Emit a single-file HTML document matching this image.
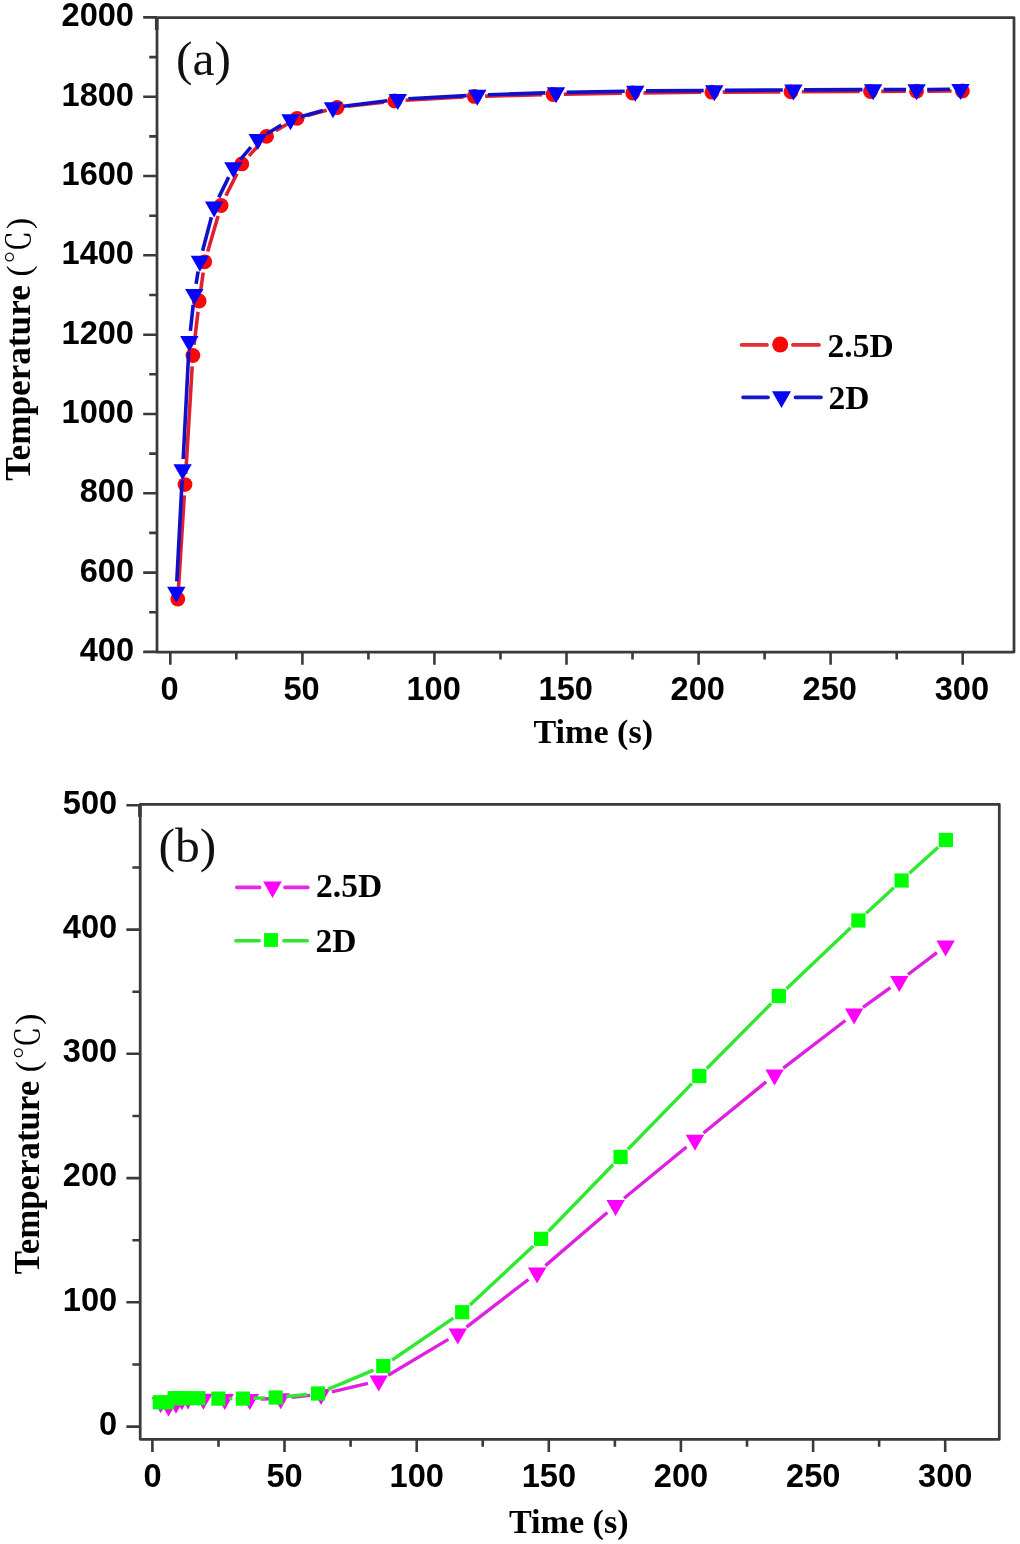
<!DOCTYPE html>
<html><head><meta charset="utf-8"><title>Temperature vs time</title>
<style>
html,body{margin:0;padding:0;background:#fff}
svg{display:block;filter:blur(0.5px)}
.tk{font:bold 32.6px "Liberation Sans",sans-serif;fill:#000}
.lg{font:bold 33.5px "Liberation Serif",serif;fill:#000}
.al{font:bold 34.1px "Liberation Serif","Noto Serif CJK SC",serif;fill:#000}
.yl{font-size:35.2px}
.cj{font-weight:normal;font-size:33.5px}
.pl{font:49.5px "Liberation Serif",serif;fill:#111}
</style></head><body>
<svg width="1020" height="1544" viewBox="0 0 1020 1544">
<rect width="1020" height="1544" fill="#fff"/>
<rect x="157" y="17.5" width="857" height="634.5" fill="none" stroke="#3a3a3a" stroke-width="2.75" stroke-linejoin="round"/>
<path d="M170.3 652v12.8M302.4 652v12.8M434.4 652v12.8M566.5 652v12.8M698.6 652v12.8M830.6 652v12.8M962.7 652v12.8M236.3 652v7.5M368.4 652v7.5M500.5 652v7.5M632.5 652v7.5M764.6 652v7.5M896.7 652v7.5M157 651.9h-13.8M157 572.6h-13.8M157 493.3h-13.8M157 414h-13.8M157 334.7h-13.8M157 255.3h-13.8M157 176h-13.8M157 96.7h-13.8M157 17.4h-13.8M157 612.2h-7.8M157 532.9h-7.8M157 453.6h-7.8M157 374.3h-7.8M157 295h-7.8M157 215.7h-7.8M157 136.4h-7.8M157 57.1h-7.8" stroke="#3a3a3a" stroke-width="2.6" fill="none"/>
<path d="M156.7 17.5v12.5" stroke="#3a3a3a" stroke-width="3.6" fill="none"/>
<g class="tk" text-anchor="middle">
<text x="169.5" y="699.5">0</text>
<text x="301.6" y="699.5">50</text>
<text x="433.6" y="699.5">100</text>
<text x="565.7" y="699.5">150</text>
<text x="697.8" y="699.5">200</text>
<text x="829.8" y="699.5">250</text>
<text x="961.9" y="699.5">300</text>
</g><g class="tk" text-anchor="end">
<text x="134" y="660.8">400</text>
<text x="134" y="581.5">600</text>
<text x="134" y="502.2">800</text>
<text x="134" y="422.9">1000</text>
<text x="134" y="343.6">1200</text>
<text x="134" y="264.2">1400</text>
<text x="134" y="184.9">1600</text>
<text x="134" y="105.6">1800</text>
<text x="134" y="26.3">2000</text>
</g>
<path d="M178.5 588.2L184.3 495.4M185.7 473.8L192.2 366.3M194.1 344.8L198 311.7M200.7 290.3L203.2 272.5M207.7 251.4L218.1 215.9M225.9 195.8L237 173.6M249 155.9L259.4 144.3M275.9 130.8L287.8 123.8M307.5 115.5L326.7 110.3M347.8 106.3L384 102.1M405.5 100.3L463.5 97M485.1 96.1L542.2 94.8M563.8 94.3L621.9 93.2M643.5 92.9L701.1 92.3M722.7 92.1L780.2 91.9M801.8 91.8L859.7 91.5M881.3 91.4L905.8 91.3M927.4 91.2L951.6 91" stroke="#e02030" stroke-width="3.6" fill="none"/>
<circle cx="177.8" cy="599" r="7.4" fill="#f80808"/><circle cx="185" cy="484.6" r="7.4" fill="#f80808"/><circle cx="192.9" cy="355.5" r="7.4" fill="#f80808"/><circle cx="199.2" cy="301" r="7.4" fill="#f80808"/><circle cx="204.7" cy="261.8" r="7.4" fill="#f80808"/><circle cx="221.1" cy="205.5" r="7.4" fill="#f80808"/><circle cx="241.8" cy="163.9" r="7.4" fill="#f80808"/><circle cx="266.6" cy="136.3" r="7.4" fill="#f80808"/><circle cx="297.1" cy="118.3" r="7.4" fill="#f80808"/><circle cx="337.1" cy="107.5" r="7.4" fill="#f80808"/><circle cx="394.7" cy="100.9" r="7.4" fill="#f80808"/><circle cx="474.3" cy="96.4" r="7.4" fill="#f80808"/><circle cx="553" cy="94.5" r="7.4" fill="#f80808"/><circle cx="632.7" cy="93" r="7.4" fill="#f80808"/><circle cx="711.9" cy="92.2" r="7.4" fill="#f80808"/><circle cx="791" cy="91.8" r="7.4" fill="#f80808"/><circle cx="870.5" cy="91.5" r="7.4" fill="#f80808"/><circle cx="916.6" cy="91.2" r="7.4" fill="#f80808"/><circle cx="962.4" cy="91" r="7.4" fill="#f80808"/>
<path d="M176.8 581.4L182.1 480.2M183.2 459L188.7 352M190.4 330.9L193.2 304.9M196.1 283.9L198.1 271.5M202.6 250.7L211.4 217.2M218.8 197.4L228.7 177.1M240.3 159.6L250.9 147.2M266.9 133.8L281.4 125M300.7 116.7L322.8 110.4M343.5 106.2L387.3 100.7M408.4 98.8L466.7 95.6M487.9 94.7L545.4 92.9M566.6 92.4L624.7 91.2M645.9 90.9L703.7 90.6M724.9 90.4L782.8 90M804 89.9L862.5 89.6M883.7 89.6L906 89.5M927.2 89.5L949.9 89.3" stroke="#1010c8" stroke-width="3.6" fill="none"/>
<polygon points="167.1,586.7 185.5,586.7 176.3,602.7" fill="#0404f8"/><polygon points="173.4,464.3 191.8,464.3 182.6,480.3" fill="#0404f8"/><polygon points="180.1,336.1 198.5,336.1 189.3,352.1" fill="#0404f8"/><polygon points="185.1,289.1 203.5,289.1 194.3,305.1" fill="#0404f8"/><polygon points="190.7,255.7 209.1,255.7 199.9,271.7" fill="#0404f8"/><polygon points="204.9,201.6 223.3,201.6 214.1,217.6" fill="#0404f8"/><polygon points="224.2,162.3 242.6,162.3 233.4,178.3" fill="#0404f8"/><polygon points="248.6,133.9 267,133.9 257.8,149.9" fill="#0404f8"/><polygon points="281.3,114.3 299.7,114.3 290.5,130.3" fill="#0404f8"/><polygon points="323.8,102.2 342.2,102.2 333,118.2" fill="#0404f8"/><polygon points="388.6,94.1 407,94.1 397.8,110.1" fill="#0404f8"/><polygon points="468.1,89.7 486.5,89.7 477.3,105.7" fill="#0404f8"/><polygon points="546.8,87.3 565.2,87.3 556,103.3" fill="#0404f8"/><polygon points="626.1,85.7 644.5,85.7 635.3,101.7" fill="#0404f8"/><polygon points="705.1,85.2 723.5,85.2 714.3,101.2" fill="#0404f8"/><polygon points="784.2,84.6 802.6,84.6 793.4,100.6" fill="#0404f8"/><polygon points="863.9,84.3 882.3,84.3 873.1,100.3" fill="#0404f8"/><polygon points="907.4,84.2 925.8,84.2 916.6,100.2" fill="#0404f8"/><polygon points="951.3,84 969.7,84 960.5,100" fill="#0404f8"/>
<path d="M741.6 344.9H767M792.9 344.9H819" stroke="#e03038" stroke-width="3.8" stroke-linecap="round"/><circle cx="780.2" cy="344.5" r="8" fill="#f80808"/>
<path d="M743.1 397.3H768M795.5 397.3H821" stroke="#1818c8" stroke-width="3.8" stroke-linecap="round"/><polygon points="772,391.3 791,391.3 781.5,407.9" fill="#0404f8"/>
<text class="lg" x="827.5" y="356.7">2.5D</text><text class="lg" x="828.5" y="409">2D</text>
<text class="pl" x="176" y="74.5">(a)</text>
<text class="al" text-anchor="middle" x="593.3" y="743.1">Time (s)</text>
<text class="al yl" transform="translate(29.7 480.7) rotate(-90)">Temperature <tspan class="cj" letter-spacing="1.4">(℃)</tspan></text>
<rect x="140.2" y="804.3" width="859.1" height="635" fill="none" stroke="#3a3a3a" stroke-width="2.75" stroke-linejoin="round"/>
<path d="M152.4 1439.3v12.8M284.5 1439.3v12.8M416.7 1439.3v12.8M548.8 1439.3v12.8M680.9 1439.3v12.8M813.1 1439.3v12.8M945.2 1439.3v12.8M218.5 1439.3v7.5M350.6 1439.3v7.5M482.7 1439.3v7.5M614.9 1439.3v7.5M747 1439.3v7.5M879.1 1439.3v7.5M140.2 1426.6h-13.8M140.2 1302.3h-13.8M140.2 1178.1h-13.8M140.2 1053.8h-13.8M140.2 929.6h-13.8M140.2 805.3h-13.8M140.2 1364.5h-7.8M140.2 1240.2h-7.8M140.2 1116h-7.8M140.2 991.7h-7.8M140.2 867.5h-7.8" stroke="#3a3a3a" stroke-width="2.6" fill="none"/>
<path d="M139.9 804.3v12.5" stroke="#3a3a3a" stroke-width="3.6" fill="none"/>
<g class="tk" text-anchor="middle">
<text x="152.5" y="1486.7">0</text>
<text x="284.6" y="1486.7">50</text>
<text x="416.8" y="1486.7">100</text>
<text x="548.9" y="1486.7">150</text>
<text x="681" y="1486.7">200</text>
<text x="813.2" y="1486.7">250</text>
<text x="945.3" y="1486.7">300</text>
</g><g class="tk" text-anchor="end">
<text x="117.2" y="1434.9">0</text>
<text x="117.2" y="1310.6">100</text>
<text x="117.2" y="1186.4">200</text>
<text x="117.2" y="1062.1">300</text>
<text x="117.2" y="937.9">400</text>
<text x="117.2" y="813.6">500</text>
</g>
<path d="M235.7 1399.3L238.8 1399.3M260.8 1399L269.7 1398.8M291.6 1397.4L310.2 1395.4M331.8 1391.8L368 1383.3M388.2 1375.2L448.3 1339.4M466.5 1327.1L528.4 1279.5M545.4 1265.6L607.3 1212.5M624.1 1198.3L686.5 1147M703.5 1133L766.1 1081.9M783.3 1068.2L845.4 1020.5M863 1007.4L890.4 987.6M908 974.5L936.9 952.6" stroke="#e020e0" stroke-width="3.4" fill="none"/>
<polygon points="151.5,1397.3 169.9,1397.3 160.7,1413.3" fill="#ff00ff"/><polygon points="159.3,1400.5 177.7,1400.5 168.5,1416.5" fill="#ff00ff"/><polygon points="166.8,1397.7 185.2,1397.7 176,1413.7" fill="#ff00ff"/><polygon points="172.7,1394.2 191.1,1394.2 181.9,1410.2" fill="#ff00ff"/><polygon points="178.8,1393.4 197.2,1393.4 188,1409.4" fill="#ff00ff"/><polygon points="194.2,1393.8 212.6,1393.8 203.4,1409.8" fill="#ff00ff"/><polygon points="215.5,1394 233.9,1394 224.7,1410" fill="#ff00ff"/><polygon points="240.6,1394 259,1394 249.8,1410" fill="#ff00ff"/><polygon points="271.5,1393.2 289.9,1393.2 280.7,1409.2" fill="#ff00ff"/><polygon points="311.9,1389 330.3,1389 321.1,1405" fill="#ff00ff"/><polygon points="369.5,1375.5 387.9,1375.5 378.7,1391.5" fill="#ff00ff"/><polygon points="448.6,1328.5 467,1328.5 457.8,1344.5" fill="#ff00ff"/><polygon points="527.9,1267.5 546.3,1267.5 537.1,1283.5" fill="#ff00ff"/><polygon points="606.4,1200 624.8,1200 615.6,1216" fill="#ff00ff"/><polygon points="685.8,1134.7 704.2,1134.7 695,1150.7" fill="#ff00ff"/><polygon points="765.4,1069.6 783.8,1069.6 774.6,1085.6" fill="#ff00ff"/><polygon points="844.9,1008.5 863.3,1008.5 854.1,1024.5" fill="#ff00ff"/><polygon points="890.1,975.9 908.5,975.9 899.3,991.9" fill="#ff00ff"/><polygon points="936.4,940.6 954.8,940.6 945.6,956.6" fill="#ff00ff"/>
<path d="M229 1398.6L232.3 1398.6M253.5 1398.2L265.1 1397.9M286.3 1396.5L307.4 1394.5M327.8 1389.4L373.5 1370.1M392.1 1360L453.4 1318.2M470 1305L533.3 1246M548.5 1231.2L613.2 1164.5M628 1149.3L691.9 1083.6M706.8 1068.5L771.3 1003.5M786.5 988.7L850.7 927.8M866.2 913.3L893.8 887.7M909.4 873.3L938.1 847.2" stroke="#30e830" stroke-width="3.4" fill="none"/>
<rect x="152.7" y="1395.2" width="14.2" height="14.2" fill="#00ff00"/><rect x="159.9" y="1395.2" width="14.2" height="14.2" fill="#00ff00"/><rect x="167.6" y="1391.1" width="14.2" height="14.2" fill="#00ff00"/><rect x="172.9" y="1391.1" width="14.2" height="14.2" fill="#00ff00"/><rect x="178.9" y="1391.1" width="14.2" height="14.2" fill="#00ff00"/><rect x="191.3" y="1391.1" width="14.2" height="14.2" fill="#00ff00"/><rect x="211.3" y="1391.5" width="14.2" height="14.2" fill="#00ff00"/><rect x="235.8" y="1391.5" width="14.2" height="14.2" fill="#00ff00"/><rect x="268.6" y="1390.4" width="14.2" height="14.2" fill="#00ff00"/><rect x="310.9" y="1386.4" width="14.2" height="14.2" fill="#00ff00"/><rect x="376.2" y="1358.9" width="14.2" height="14.2" fill="#00ff00"/><rect x="455.1" y="1305.1" width="14.2" height="14.2" fill="#00ff00"/><rect x="534" y="1231.7" width="14.2" height="14.2" fill="#00ff00"/><rect x="613.5" y="1149.8" width="14.2" height="14.2" fill="#00ff00"/><rect x="692.2" y="1068.9" width="14.2" height="14.2" fill="#00ff00"/><rect x="771.7" y="988.9" width="14.2" height="14.2" fill="#00ff00"/><rect x="851.3" y="913.4" width="14.2" height="14.2" fill="#00ff00"/><rect x="894.5" y="873.4" width="14.2" height="14.2" fill="#00ff00"/><rect x="938.8" y="832.9" width="14.2" height="14.2" fill="#00ff00"/>
<path d="M236.8 887.4H259.7M284.9 887.4H307.9" stroke="#e828e8" stroke-width="3.6" stroke-linecap="round"/><polygon points="263.2,881.5 281.8,881.5 272.5,897.9" fill="#ff00ff"/>
<path d="M235.9 940.8H259.2M283.9 940.8H307.3" stroke="#30e830" stroke-width="3.6" stroke-linecap="round"/><rect x="264.1" y="933.1" width="13.8" height="13.8" fill="#00ff00"/>
<text class="lg" x="316" y="897.3">2.5D</text><text class="lg" x="315.5" y="951.8">2D</text>
<text class="pl" x="158.5" y="861.8">(b)</text>
<text class="al" text-anchor="middle" x="568.8" y="1533.1">Time (s)</text>
<text class="al yl" style="font-size:34.8px" transform="translate(38.8 1274.2) rotate(-90)">Temperature <tspan class="cj" letter-spacing="1.4">(℃)</tspan></text>
</svg>
</body></html>
